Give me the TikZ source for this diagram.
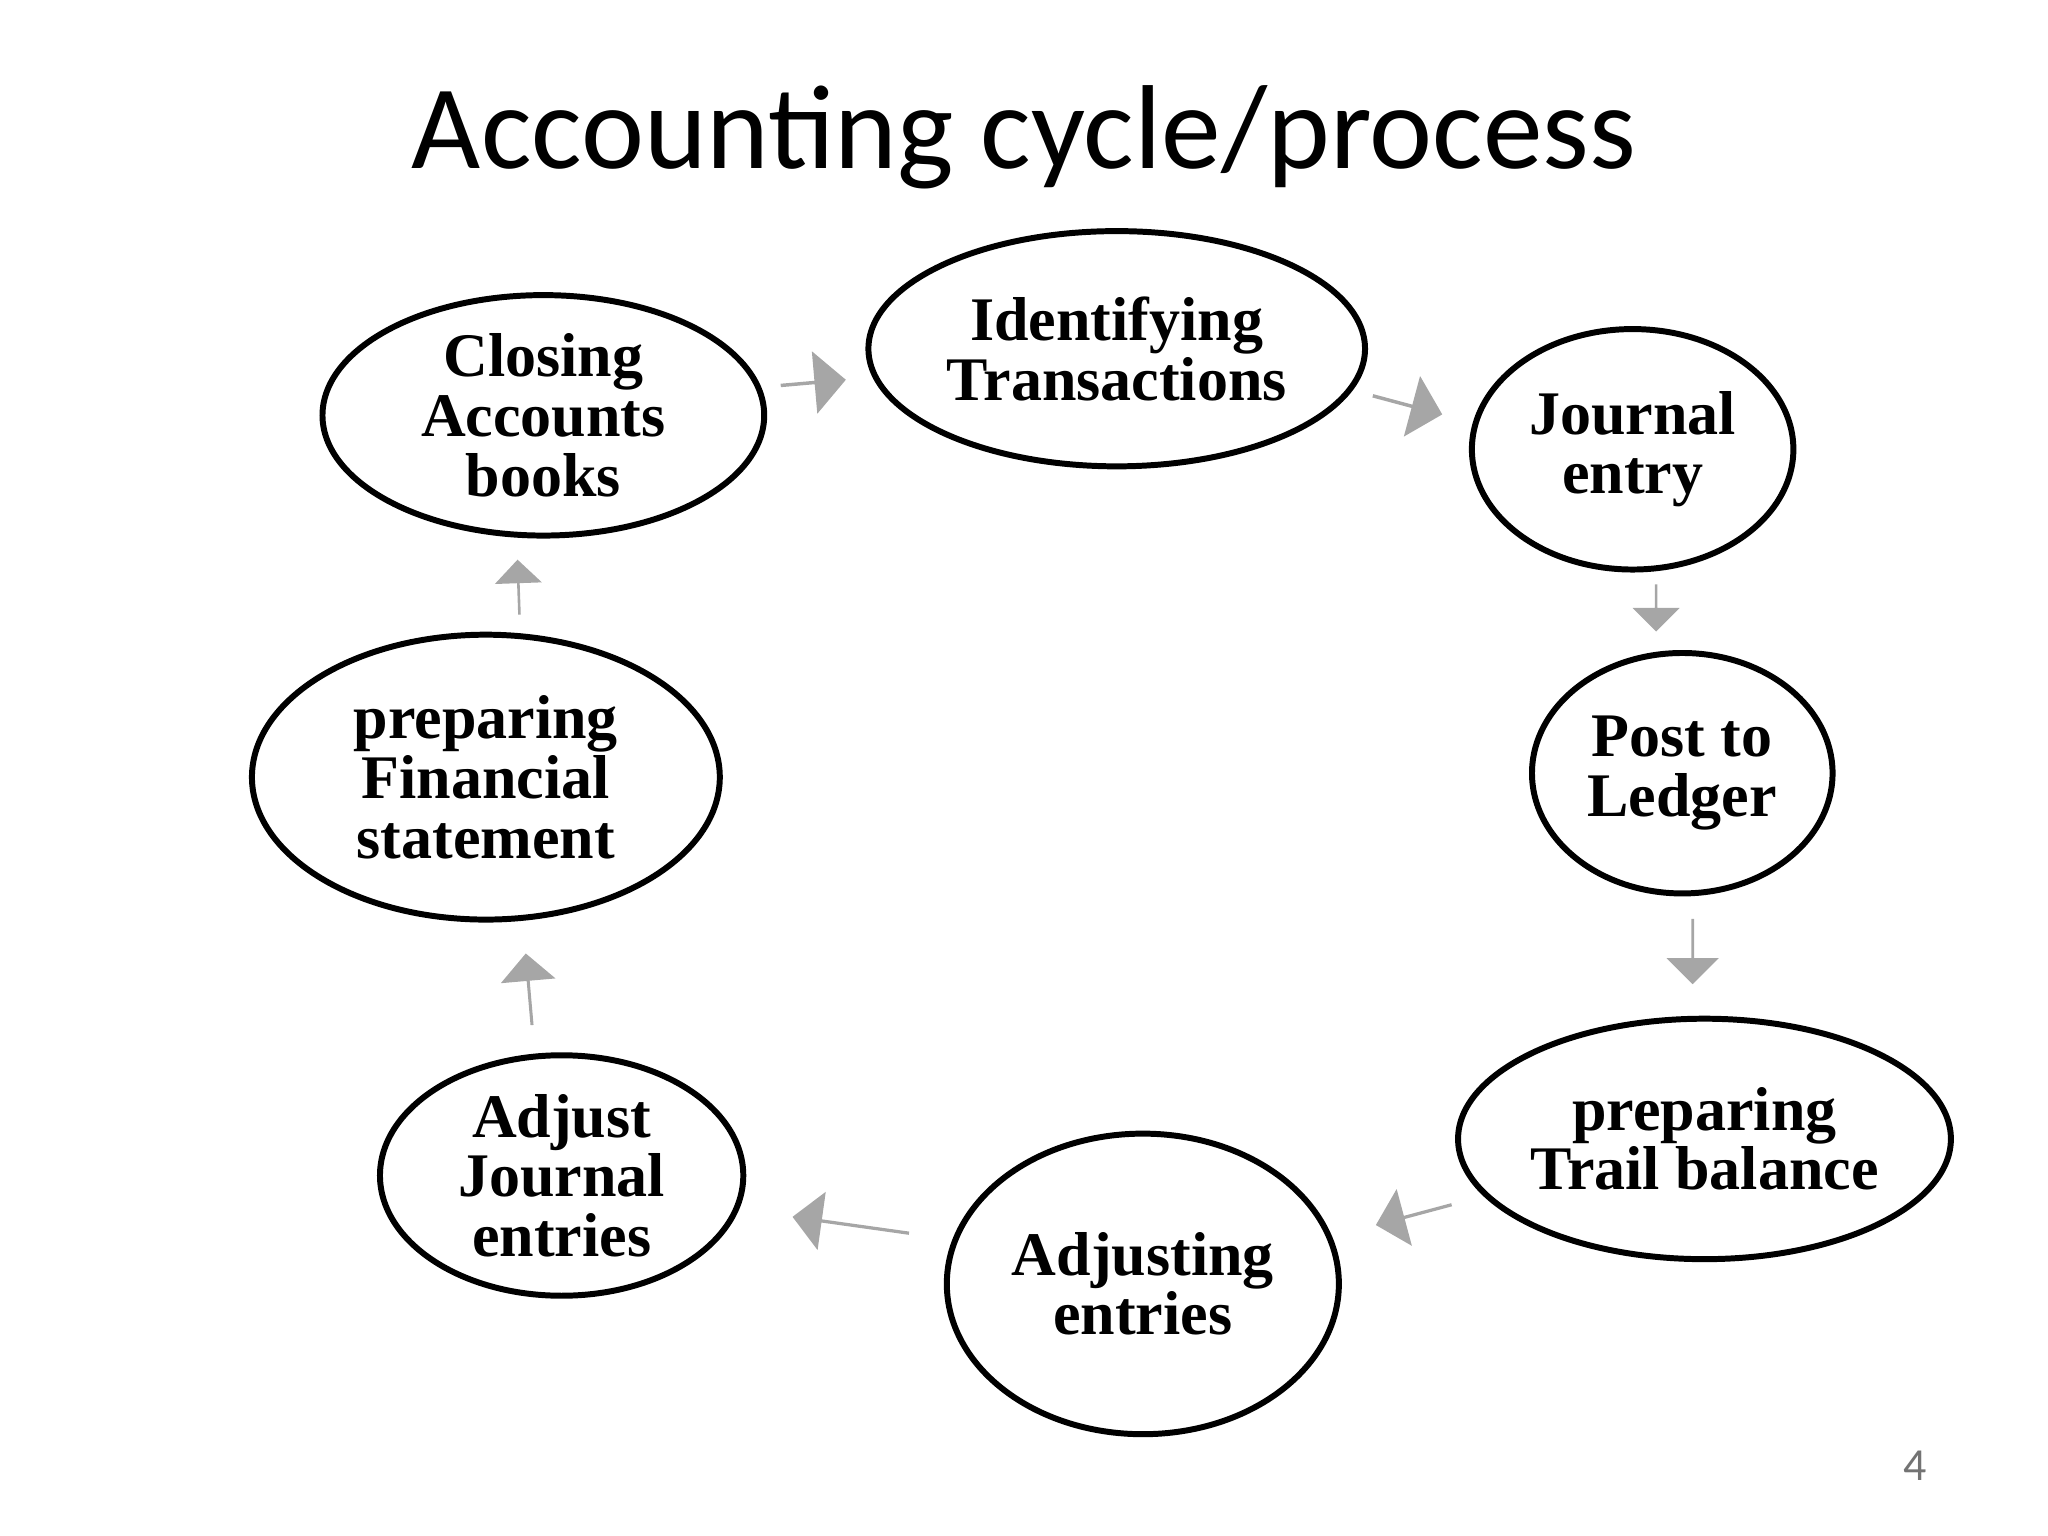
\documentclass[tikz,border=0pt]{standalone}
\usepackage{fontspec}
\setmainfont{Liberation Serif}
\newfontfamily\titlefont{Carlito}
\usetikzlibrary{shapes.geometric,shapes.arrows}
\tikzset{
 stage/.style={ellipse,draw,line width=1.3pt,align=center,inner sep=0pt,
   font=\fontsize{13.5pt}{13pt}\selectfont\bfseries},
 blk/.style={single arrow,fill=black!35,draw=none,single arrow head extend=0.12cm,
   inner sep=0pt,minimum height=#1},
}
\begin{document}
\begin{tikzpicture}[x=0.01cm,y=-0.01cm]
\useasboundingbox (0,0) rectangle (1568,1176);
\node[font=\titlefont\fontsize{26pt}{30pt}\selectfont] (title) at (784,105) {Accounting cycle/process};
\node[stage,minimum width=3.38cm,minimum height=1.84cm] (close) at (416,318) {Closing\\Accounts\\books};
\node[stage,minimum width=3.8cm,minimum height=1.8cm] (ident) at (855,267) {Identifying\\Transactions};
\node[stage,minimum width=2.46cm,minimum height=1.84cm] (journ) at (1250,344) {Journal\\entry};
\node[stage,minimum width=2.3cm,minimum height=1.84cm] (post) at (1288,592) {Post to\\Ledger};
\node[stage,minimum width=3.76cm,minimum height=1.84cm] (trail) at (1305,872) {preparing\\Trail balance};
\node[stage,minimum width=3.0cm,minimum height=2.3cm] (adjg) at (875,983) {Adjusting\\entries};
\node[stage,minimum width=2.78cm,minimum height=1.84cm] (adjj) at (430,900) {Adjust\\Journal\\entries};
\node[stage,minimum width=3.58cm,minimum height=2.18cm] (fin) at (372,595) {preparing\\Financial\\statement};
\node[blk=0.5cm,minimum width=0.48cm,rotate=5] (a1) at (622,293) {};
\node[blk=0.55cm,minimum width=0.48cm,rotate=-15] (a2) at (1077,310) {};
\node[blk=0.36cm,minimum width=0.36cm,rotate=-90] (a3) at (1268,465) {};
\node[blk=0.5cm,minimum width=0.4cm,rotate=-90] (a4) at (1296,728) {};
\node[blk=0.6cm,minimum width=0.45cm,rotate=195] (a5) at (1083,930) {};
\node[blk=0.9cm,minimum width=0.45cm,rotate=172] (a6) at (652,938) {};
\node[blk=0.55cm,minimum width=0.42cm,rotate=95] (a7) at (405,758) {};
\node[blk=0.42cm,minimum width=0.36cm,rotate=92] (a8) at (397,450) {};
\node[font=\titlefont\fontsize{10pt}{12pt}\selectfont,text=black!55] (pg) at (1466,1122) {4};
\end{tikzpicture}
\end{document}
